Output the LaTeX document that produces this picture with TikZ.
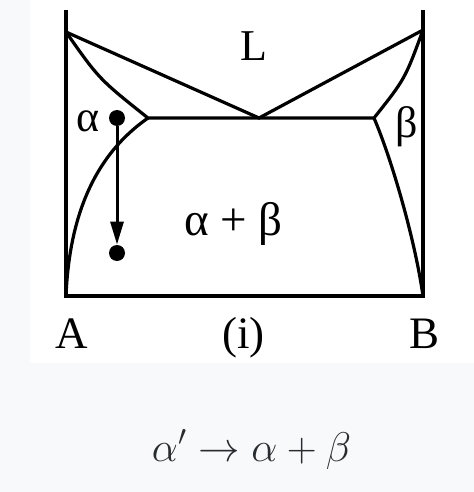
\documentclass[tikz,border=0pt]{standalone}
\usepackage{fontspec}
\setmainfont{Liberation Serif}
\usepackage{tikz}
\usetikzlibrary{arrows.meta}
\usetikzlibrary{calc}
\definecolor{pagegray}{HTML}{F8F9FA}
\definecolor{captiongray}{HTML}{262C30}
\tikzset{>={Triangle[length=11.5pt,width=6.5pt]}}

\begin{document}
\begin{tikzpicture}[x=0.5pt,y=-0.5pt,
  every node/.style={draw=none,inner sep=0pt},
  phase/.style={line width=1.6pt},
  big/.style={font=\fontsize{22.5}{27}\selectfont},
  greek/.style={font=\fontsize{22}{26}\selectfont},
  dot/.style={circle,fill=black,minimum size=8pt}]

  \fill[pagegray] (0,0) rectangle (474,492);
  \fill[white] (30,0) rectangle (474,363);
  \useasboundingbox (0,0) rectangle (474,492);

  % frame of the diagram
  \coordinate (atop) at (66,10);
  \coordinate (abot) at (66,296);
  \coordinate (btop) at (423,10);
  \coordinate (bbot) at (423,296);
  \draw[phase] (atop) -- (abot) -- (bbot) -- (btop);

  % melting points, eutectic and its ends
  \coordinate (ma) at (66,32);
  \coordinate (mb) at (423,30);
  \coordinate (eut) at (259,118);
  \coordinate (pa) at (148,118);
  \coordinate (pb) at (374,118);

  \draw[phase] (ma) -- (eut) -- (mb);
  \draw[phase] (ma) .. controls (99,79) .. (pa) -- (pb) .. controls (405,79) .. (mb);
  \draw[phase] (pa) .. controls (105,148) and (70,200) .. (abot);
  \draw[phase] (pb) .. controls (392,160) and (415,240) .. (bbot);

  % cooling path
  \node[dot] (start) at (117,118) {};
  \node[dot] (stop) at (117,253) {};
  \draw[->,line width=1.5pt] (start) -- (stop);

  % labels
  \node[font=\fontsize{22}{26}\selectfont] (liq) at (254,46) {L};
  \node[greek] (alpha) at (88,121) {α};
  \node[greek] (beta) at (407,127) {β};
  \node[font=\fontsize{23.5}{28}\selectfont,anchor=base] (mix) at (233.5,235) {α + β};
  \node[big,anchor=base] (lA) at (71.5,348) {A};
  \node[big,anchor=base] (lcase) at (243.5,348) {(i)};
  \node[big,anchor=base] (lB) at (424.5,348) {B};

  \node[font=\fontsize{20}{24}\selectfont,text=captiongray,anchor=base] (rxn)
    at (251.5,461) {$\alpha'\to\alpha+\beta$};
\end{tikzpicture}
\end{document}
